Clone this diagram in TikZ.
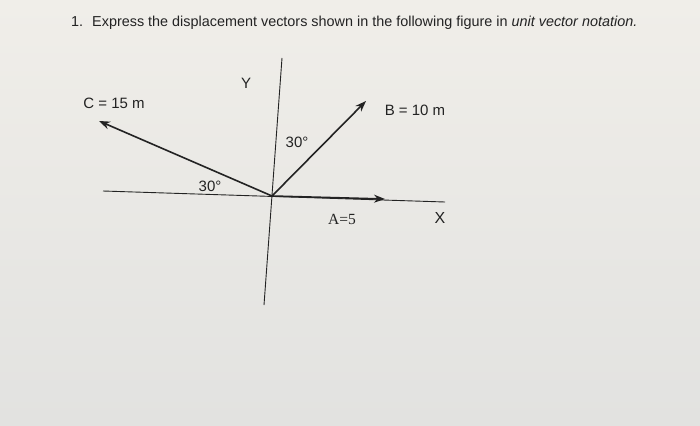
\documentclass[tikz,border=0pt]{standalone}
\usepackage{fontspec}
\setmainfont{Liberation Sans}
\newfontfamily\serfont{Liberation Serif}
\usetikzlibrary{arrows.meta}
\definecolor{paper}{RGB}{240,238,233}
\definecolor{papershade}{RGB}{226,226,224}
\definecolor{ink}{RGB}{35,35,35}
\tikzset{
  axis/.style={draw=ink, line width=0.9pt},
  vec/.style={draw=ink, line width=1.6pt, -{Stealth[length=11pt,width=8pt]}},
  lbl/.style={text=ink, inner sep=0pt, font=\fontsize{15}{17}\selectfont}
}
\begin{document}
\begin{tikzpicture}[x=1pt,y=-1pt]
      \shade[top color=paper, bottom color=papershade] (0,0) rectangle (700,425);
      \useasboundingbox (0,0) rectangle (700,425);
      \node[lbl, anchor=west, font=\fontsize{14.4}{16}\selectfont] (title) at (71,23)
        {1.\hspace{9pt}Express the displacement vectors shown in the following figure in \textit{unit vector notation.}};
      \draw
        (272,196) coordinate (O)
        (103,191) coordinate (xl)
        (445,202) coordinate (xr)
        (282,58) coordinate (yt)
        (264,305) coordinate (yb)
        (385,199) coordinate (A)
        (366,101) coordinate (B)
        (99,121) coordinate (C);
      \draw[axis] (xl) to (xr);
      \draw[axis] (yt) to (yb);
      \begin{scope}[vec]
        \draw (O) to (A);
        \draw (O) to (B);
        \draw (O) to (C);
      \end{scope}
      \draw
        (246,83) node[lbl] (ylab){Y}
        (440,218) node[lbl, font=\fontsize{16}{18}\selectfont] (xlab){X}
        (114,103) node[lbl] (clab){C = 15 m}
        (415,110) node[lbl] (blab){B = 10 m}
        (297,142) node[lbl] (bang){30\textdegree}
        (210,186) node[lbl] (cang){30\textdegree}
        (342,219) node[lbl, font=\serfont\fontsize{15.5}{17}\selectfont] (alab){A=5};
    \end{tikzpicture}
\end{document}
